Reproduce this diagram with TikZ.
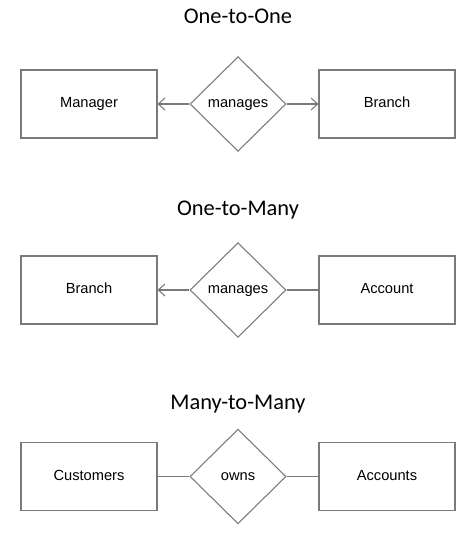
\documentclass[tikz,border=0pt]{standalone}
\usepackage{fontspec}
\setmainfont{Liberation Sans}
\newfontfamily\titlefont{Carlito}
\usetikzlibrary{shapes.geometric, arrows.meta}

\definecolor{linegray}{HTML}{7A7A7A}

\begin{document}
\begin{tikzpicture}[x=0.75pt, y=-0.75pt, font=\fontsize{11}{13}\selectfont]
        % Setup the styles for entities and relations
        \tikzset{entity style/.style={rectangle, draw=linegray, line width=0.8pt,
                                      text height=8pt, text depth=2.3pt,
                                      minimum width=102pt, minimum height=51pt},
                 relation style/.style={diamond, draw=linegray, line width=0.8pt,
                                        text height=8pt, text depth=2.3pt,
                                        minimum width=72pt, minimum height=71pt, inner sep=0pt},
                 title style/.style={font=\titlefont\fontsize{16.8}{19}\selectfont},
                 link/.style={draw=linegray, line width=0.8pt},
                 onearrow/.style={link, -{Straight Barb[length=5pt, width=9pt]}}}
        \useasboundingbox (0,0) rectangle (474,537);

        % One-to-One
        \node[title style] at (238, 16) (titleone) {One-to-One};
        \node[entity style] at (89, 104) (manager) {Manager};
        \node[relation style] at (238, 104) (managesone) {manages};
        \node[entity style] at (387, 104) (branchone) {Branch};
        \draw[onearrow] (managesone) -- (manager);
        \draw[onearrow] (managesone) -- (branchone);

        % One-to-Many
        \node[title style] at (238, 210) (titlemany) {One-to-Many};
        \node[entity style] at (89, 290) (branchtwo) {Branch};
        \node[relation style] at (238, 290) (managestwo) {manages};
        \node[entity style] at (387, 290) (account) {Account};
        \draw[onearrow] (managestwo) -- (branchtwo);
        \draw[link] (managestwo) -- (account);

        % Many-to-Many
        \node[title style] at (238, 404) (titlemm) {Many-to-Many};
        \node[entity style] at (89, 476.5) (customers) {Customers};
        \node[relation style] at (238, 476.5) (owns) {owns};
        \node[entity style] at (387, 476.5) (accounts) {Accounts};
        \draw[link] (owns) -- (customers);
        \draw[link] (owns) -- (accounts);
\end{tikzpicture}
\end{document}
